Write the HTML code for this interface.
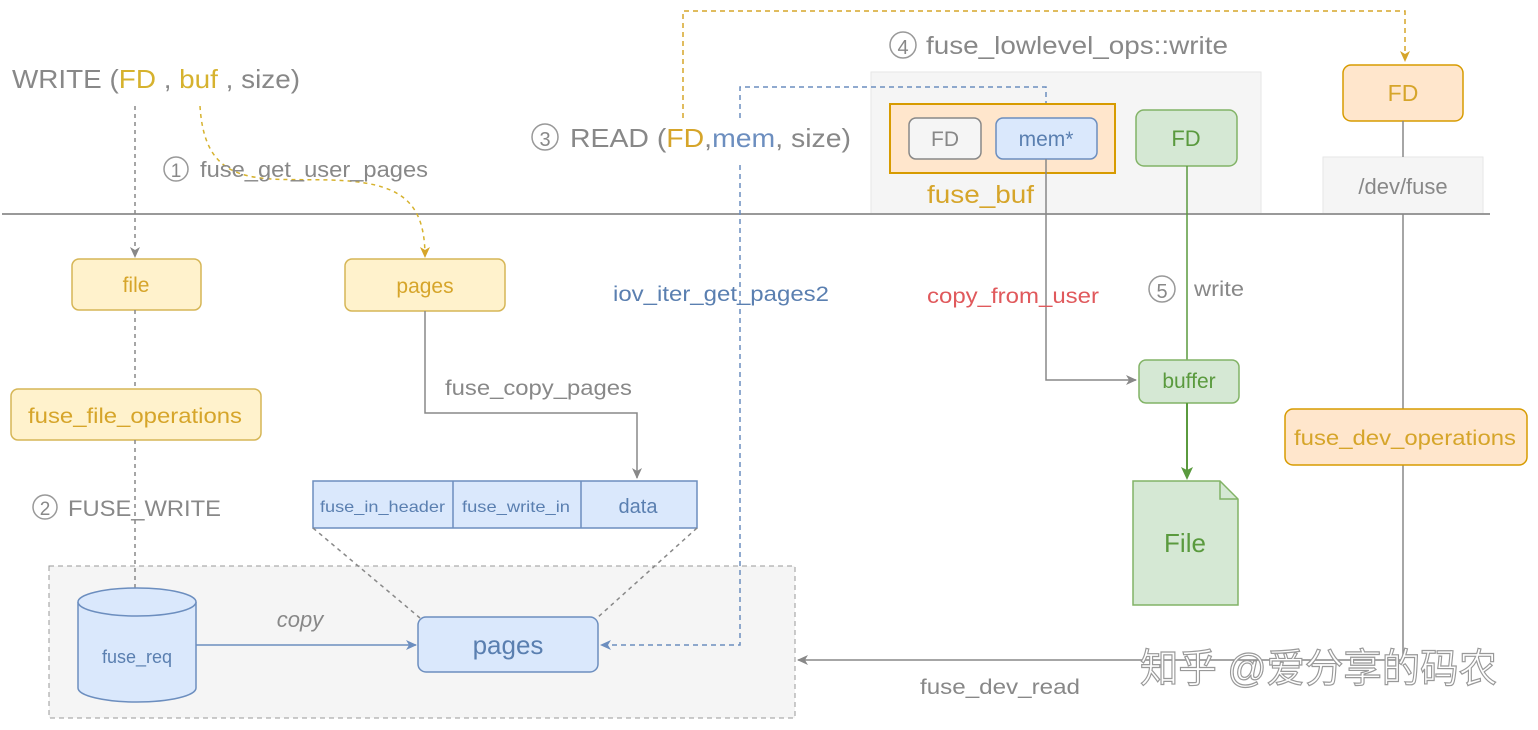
<!DOCTYPE html>
<html><head><meta charset="utf-8"><style>body{margin:0;background:#fff}svg{display:block}text{font-family:"Liberation Sans","Noto Sans CJK SC",sans-serif}</style></head><body>
<svg width="1538" height="730" viewBox="0 0 1538 730" xmlns="http://www.w3.org/2000/svg">
<defs>
<marker id="ag" markerWidth="12" markerHeight="12" refX="10" refY="6" orient="auto" markerUnits="userSpaceOnUse"><path d="M0,1 L11,6 L0,11 L3,6z" fill="#888"/></marker>
<marker id="ay" markerWidth="12" markerHeight="12" refX="10" refY="6" orient="auto" markerUnits="userSpaceOnUse"><path d="M0,1 L11,6 L0,11 L3,6z" fill="#d6a52a"/></marker>
<marker id="ab" markerWidth="12" markerHeight="12" refX="10" refY="6" orient="auto" markerUnits="userSpaceOnUse"><path d="M0,1 L11,6 L0,11 L3,6z" fill="#6c8ebf"/></marker>
<marker id="agr" markerWidth="14" markerHeight="14" refX="11" refY="7" orient="auto" markerUnits="userSpaceOnUse"><path d="M0,1 L13,7 L0,13 L3,7z" fill="#5a9a3e"/></marker>
</defs>
<rect x="871" y="72" width="390" height="142" fill="#f5f5f5" stroke="#e6e6e6"/>
<rect x="1323" y="157" width="160" height="57" fill="#f5f5f5" stroke="#e6e6e6"/>
<rect x="49" y="566" width="746" height="152" fill="#f5f5f5" stroke="#999" stroke-dasharray="5,4"/>
<line x1="2" y1="214" x2="1490" y2="214" stroke="#999" stroke-width="2"/>
<text x="12" y="88" font-size="26" fill="#888" textLength="288" lengthAdjust="spacingAndGlyphs">WRITE (<tspan fill="#d6b22e">FD</tspan> , <tspan fill="#d6b22e">buf</tspan> , size)</text>
<line x1="135" y1="106" x2="135" y2="257" stroke="#888" stroke-width="1.5" stroke-dasharray="4,4" marker-end="url(#ag)"/>
<path d="M200,106 C205,190 260,178 330,180 C400,182 425,200 425,257" fill="none" stroke="#d6b22e" stroke-width="1.5" stroke-dasharray="4,4" marker-end="url(#ay)"/>
<circle cx="176" cy="169" r="12" fill="#fff" stroke="#999" stroke-width="1.5"/><text x="176" y="177" font-size="19" fill="#888" text-anchor="middle">1</text>
<text x="200" y="177" font-size="22" fill="#888" textLength="228" lengthAdjust="spacingAndGlyphs">fuse_get_user_pages</text>
<rect x="72" y="259" width="129" height="51" rx="7" fill="#fff2cc" stroke="#d6b656" stroke-width="1.5"/>
<text x="136" y="292" font-size="21" fill="#d6a52a" text-anchor="middle">file</text>
<rect x="345" y="259" width="160" height="52" rx="7" fill="#fff2cc" stroke="#d6b656" stroke-width="1.5"/>
<text x="425" y="293" font-size="21" fill="#d6a52a" text-anchor="middle">pages</text>
<line x1="135" y1="310" x2="135" y2="389" stroke="#888" stroke-width="1.5" stroke-dasharray="4,4"/>
<rect x="11" y="389" width="250" height="51" rx="7" fill="#fff2cc" stroke="#d6b656" stroke-width="1.5"/>
<text x="28" y="423" font-size="21" fill="#d6a52a" textLength="214" lengthAdjust="spacingAndGlyphs">fuse_file_operations</text>
<line x1="135" y1="440" x2="135" y2="612" stroke="#888" stroke-width="1.5" stroke-dasharray="4,4" marker-end="url(#ag)"/>
<circle cx="45" cy="507" r="12" fill="#fff" stroke="#999" stroke-width="1.5"/><text x="45" y="515" font-size="19" fill="#888" text-anchor="middle">2</text>
<text x="68" y="516" font-size="22" fill="#888" textLength="153" lengthAdjust="spacingAndGlyphs">FUSE_WRITE</text>
<path d="M425,311 V413 H637 V478" fill="none" stroke="#888" stroke-width="1.5" marker-end="url(#ag)"/>
<text x="445" y="395" font-size="21" fill="#888" textLength="187" lengthAdjust="spacingAndGlyphs">fuse_copy_pages</text>
<rect x="313" y="481" width="384" height="47" fill="#dae8fc" stroke="#6c8ebf" stroke-width="1.5"/>
<line x1="453" y1="481" x2="453" y2="528" stroke="#6c8ebf" stroke-width="1.5"/>
<line x1="581" y1="481" x2="581" y2="528" stroke="#6c8ebf" stroke-width="1.5"/>
<text x="320" y="512" font-size="16" fill="#5a7fb0" textLength="125" lengthAdjust="spacingAndGlyphs">fuse_in_header</text>
<text x="462" y="512" font-size="16" fill="#5a7fb0" textLength="108" lengthAdjust="spacingAndGlyphs">fuse_write_in</text>
<text x="638" y="513" font-size="20" fill="#5a7fb0" text-anchor="middle">data</text>
<line x1="313" y1="528" x2="420" y2="618" stroke="#888" stroke-width="1.5" stroke-dasharray="4,4"/>
<line x1="697" y1="528" x2="597" y2="618" stroke="#888" stroke-width="1.5" stroke-dasharray="4,4"/>
<path d="M78,602 V688 A59,14 0 0 0 196,688 V602" fill="#dae8fc" stroke="#6c8ebf" stroke-width="1.5"/>
<ellipse cx="137" cy="602" rx="59" ry="14" fill="#dae8fc" stroke="#6c8ebf" stroke-width="1.5"/>
<text x="137" y="663" font-size="18" fill="#5a7fb0" text-anchor="middle">fuse_req</text>
<line x1="196" y1="645" x2="416" y2="645" stroke="#6c8ebf" stroke-width="1.5" marker-end="url(#ab)"/>
<text x="300" y="627" font-size="22" fill="#888" font-style="italic" text-anchor="middle">copy</text>
<rect x="418" y="617" width="180" height="55" rx="8" fill="#dae8fc" stroke="#6c8ebf" stroke-width="1.5"/>
<text x="508" y="654" font-size="26" fill="#5a7fb0" text-anchor="middle">pages</text>
<path d="M683,118 V11 H1405 V61" fill="none" stroke="#d6a52a" stroke-width="1.5" stroke-dasharray="5,4" marker-end="url(#ay)"/>
<path d="M740,118 V87 H1046 V118" fill="none" stroke="#6c8ebf" stroke-width="1.5" stroke-dasharray="5,4"/>
<path d="M740,165 V645 H601" fill="none" stroke="#6c8ebf" stroke-width="1.5" stroke-dasharray="5,4" marker-end="url(#ab)"/>
<circle cx="545" cy="137" r="13" fill="#fff" stroke="#999" stroke-width="1.5"/><text x="545" y="146" font-size="20" fill="#888" text-anchor="middle">3</text>
<text x="570" y="147" font-size="26" fill="#888" textLength="281" lengthAdjust="spacingAndGlyphs">READ (<tspan fill="#d6a52a">FD</tspan>,<tspan fill="#6c8ebf">mem</tspan>, size)</text>
<text x="613" y="301" font-size="21" fill="#5a7fb0" textLength="216" lengthAdjust="spacingAndGlyphs">iov_iter_get_pages2</text>
<circle cx="903" cy="45" r="13" fill="#fff" stroke="#999" stroke-width="1.5"/><text x="903" y="54" font-size="20" fill="#888" text-anchor="middle">4</text>
<text x="926" y="54" font-size="25" fill="#888" textLength="302" lengthAdjust="spacingAndGlyphs">fuse_lowlevel_ops::write</text>
<rect x="890" y="104" width="225" height="69" fill="#ffe6cc" stroke="#d79b00" stroke-width="2"/>
<rect x="909" y="118" width="72" height="41" rx="7" fill="#f5f5f5" stroke="#888" stroke-width="1.5"/>
<text x="945" y="146" font-size="21" fill="#888" text-anchor="middle">FD</text>
<rect x="996" y="118" width="101" height="41" rx="7" fill="#dae8fc" stroke="#6c8ebf" stroke-width="1.5"/>
<text x="1046" y="146" font-size="21" fill="#5a7fb0" text-anchor="middle">mem*</text>
<text x="927" y="203" font-size="25" fill="#d6a52a" textLength="107" lengthAdjust="spacingAndGlyphs">fuse_buf</text>
<rect x="1136" y="110" width="101" height="56" rx="8" fill="#d5e8d4" stroke="#82b366" stroke-width="1.5"/>
<text x="1186" y="146" font-size="22" fill="#5a9a3e" text-anchor="middle">FD</text>
<path d="M1046,159 V380 H1136" fill="none" stroke="#888" stroke-width="1.5" marker-end="url(#ag)"/>
<text x="927" y="303" font-size="21" fill="#e0595c" textLength="172" lengthAdjust="spacingAndGlyphs">copy_from_user</text>
<line x1="1187" y1="166" x2="1187" y2="360" stroke="#5a9a3e" stroke-width="1.5"/>
<circle cx="1162" cy="289" r="13" fill="#fff" stroke="#999" stroke-width="1.5"/><text x="1162" y="298" font-size="20" fill="#888" text-anchor="middle">5</text>
<text x="1194" y="296" font-size="21" fill="#888" textLength="50" lengthAdjust="spacingAndGlyphs">write</text>
<rect x="1139" y="360" width="100" height="43" rx="7" fill="#d5e8d4" stroke="#82b366" stroke-width="1.5"/>
<text x="1189" y="388" font-size="21" fill="#5a9a3e" text-anchor="middle">buffer</text>
<line x1="1187" y1="403" x2="1187" y2="478" stroke="#5a9a3e" stroke-width="2" marker-end="url(#agr)"/>
<path d="M1133,481 H1220 L1238,499 V605 H1133 Z" fill="#d5e8d4" stroke="#82b366" stroke-width="1.5"/>
<path d="M1220,481 V499 H1238" fill="none" stroke="#82b366" stroke-width="1.5"/>
<text x="1185" y="552" font-size="26" fill="#5a9a3e" text-anchor="middle">File</text>
<rect x="1343" y="65" width="120" height="56" rx="8" fill="#ffe6cc" stroke="#d79b00" stroke-width="1.5"/>
<text x="1403" y="101" font-size="23" fill="#d6a52a" text-anchor="middle">FD</text>
<line x1="1403" y1="121" x2="1403" y2="157" stroke="#888" stroke-width="1.5"/>
<text x="1403" y="194" font-size="22" fill="#888" text-anchor="middle">/dev/fuse</text>
<path d="M1403,214 V660 H798" fill="none" stroke="#888" stroke-width="1.5" marker-end="url(#ag)"/>
<rect x="1285" y="409" width="242" height="56" rx="8" fill="#ffe6cc" stroke="#d79b00" stroke-width="1.5"/>
<text x="1294" y="445" font-size="21" fill="#d6a52a" textLength="222" lengthAdjust="spacingAndGlyphs">fuse_dev_operations</text>
<text x="920" y="694" font-size="21" fill="#888" textLength="160" lengthAdjust="spacingAndGlyphs">fuse_dev_read</text>
<text x="1140" y="682" font-size="40" fill="#fff" stroke="#999" stroke-width="1.2" textLength="357" lengthAdjust="spacingAndGlyphs">知乎 @爱分享的码农</text>
</svg>
</body></html>
